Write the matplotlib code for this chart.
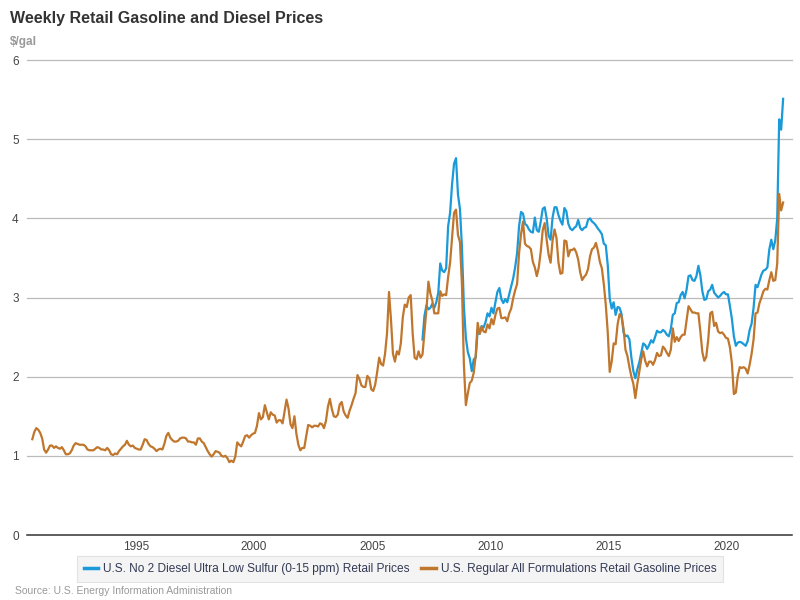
import numpy as np
import matplotlib
matplotlib.use("Agg")
import matplotlib.pyplot as plt
from matplotlib.lines import Line2D

# Monthly values (regular gasoline, $/gal), Aug 1990 - Apr 2022
gas_start_year, gas_start_month = 1990, 8
gas_values = [
    # 1990 Aug-Dec
    1.21, 1.30, 1.35, 1.33, 1.29,
    # 1991
    1.22, 1.08, 1.04, 1.08, 1.13, 1.13, 1.10, 1.12, 1.10, 1.09, 1.11, 1.07,
    # 1992
    1.02, 1.02, 1.03, 1.07, 1.13, 1.16, 1.15, 1.14, 1.14, 1.14, 1.12, 1.08,
    # 1993
    1.07, 1.07, 1.07, 1.09, 1.11, 1.10, 1.08, 1.08, 1.07, 1.10, 1.07, 1.02,
    # 1994
    1.01, 1.03, 1.02, 1.06, 1.09, 1.12, 1.14, 1.19, 1.14, 1.12, 1.13, 1.10,
    # 1995
    1.09, 1.08, 1.08, 1.14, 1.21, 1.20, 1.15, 1.12, 1.11, 1.09, 1.06, 1.08,
    # 1996
    1.09, 1.08, 1.15, 1.25, 1.29, 1.23, 1.20, 1.18, 1.18, 1.19, 1.22, 1.23,
    # 1997
    1.23, 1.22, 1.18, 1.18, 1.17, 1.17, 1.14, 1.22, 1.22, 1.18, 1.16, 1.11,
    # 1998
    1.06, 1.02, 0.99, 1.02, 1.06, 1.05, 1.04, 1.00, 0.99, 1.00, 0.97, 0.92,
    # 1999
    0.94, 0.92, 0.99, 1.17, 1.14, 1.12, 1.18, 1.25, 1.26, 1.23, 1.26, 1.28,
    # 2000
    1.29, 1.38, 1.54, 1.46, 1.49, 1.64, 1.55, 1.46, 1.55, 1.52, 1.51, 1.42,
    # 2001
    1.45, 1.45, 1.41, 1.56, 1.71, 1.60, 1.40, 1.35, 1.50, 1.28, 1.14, 1.07,
    # 2002
    1.10, 1.10, 1.25, 1.39, 1.38, 1.36, 1.38, 1.38, 1.37, 1.41, 1.40, 1.35,
    # 2003
    1.44, 1.62, 1.72, 1.59, 1.50, 1.49, 1.52, 1.65, 1.68, 1.56, 1.51, 1.48,
    # 2004
    1.57, 1.64, 1.72, 1.79, 2.02, 1.97, 1.89, 1.87, 1.87, 2.01, 1.98, 1.84,
    # 2005
    1.82, 1.90, 2.06, 2.24, 2.16, 2.14, 2.29, 2.55, 3.07, 2.72, 2.29, 2.19,
    # 2006
    2.32, 2.28, 2.42, 2.75, 2.91, 2.88, 3.00, 3.03, 2.55, 2.24, 2.22, 2.32,
    # 2007
    2.24, 2.28, 2.56, 2.85, 3.20, 3.05, 2.96, 2.80, 2.80, 2.80, 3.08, 3.02,
    # 2008
    3.04, 3.03, 3.26, 3.44, 3.76, 4.07, 4.11, 3.79, 3.70, 3.17, 2.15, 1.64,
    # 2009
    1.79, 1.92, 1.95, 2.05, 2.27, 2.68, 2.54, 2.63, 2.57, 2.56, 2.66, 2.61,
    # 2010
    2.73, 2.66, 2.78, 2.86, 2.87, 2.74, 2.74, 2.75, 2.70, 2.80, 2.86, 2.99,
    # 2011
    3.09, 3.17, 3.56, 3.80, 3.96, 3.68, 3.65, 3.64, 3.61, 3.45, 3.38, 3.27,
    # 2012
    3.38, 3.58, 3.85, 3.94, 3.73, 3.54, 3.44, 3.72, 3.86, 3.75, 3.44, 3.30,
    # 2013
    3.31, 3.72, 3.71, 3.52, 3.60, 3.60, 3.62, 3.57, 3.48, 3.32, 3.22, 3.26,
    # 2014
    3.29, 3.36, 3.52, 3.61, 3.63, 3.69, 3.59, 3.45, 3.37, 3.17, 2.91, 2.56,
    # 2015
    2.06, 2.19, 2.42, 2.41, 2.66, 2.79, 2.76, 2.61, 2.34, 2.26, 2.12, 2.00,
    # 2016
    1.91, 1.73, 1.91, 2.06, 2.22, 2.32, 2.20, 2.13, 2.19, 2.19, 2.15, 2.21,
    # 2017
    2.30, 2.26, 2.27, 2.38, 2.35, 2.30, 2.26, 2.34, 2.61, 2.44, 2.50, 2.45,
    # 2018
    2.50, 2.53, 2.53, 2.71, 2.89, 2.85, 2.81, 2.81, 2.80, 2.80, 2.57, 2.31,
    # 2019
    2.20, 2.25, 2.47, 2.80, 2.82, 2.64, 2.68, 2.57, 2.55, 2.56, 2.53, 2.49,
    # 2020
    2.48, 2.37, 2.17, 1.78, 1.80, 2.01, 2.12, 2.11, 2.12, 2.10, 2.04, 2.15,
    # 2021
    2.29, 2.47, 2.80, 2.81, 2.93, 3.00, 3.08, 3.11, 3.10, 3.22, 3.32, 3.21,
    # 2022 Jan-Apr
    3.22, 3.43, 4.31, 4.10, 4.20,
]

# Monthly values (ULSD diesel, $/gal), Feb 2007 - Apr 2022
dsl_start_year, dsl_start_month = 2007, 2
dsl_values = [
    # 2007 Feb-Dec
    2.47, 2.77, 2.90, 2.85, 2.87, 2.92, 2.87, 2.94, 3.06, 3.43, 3.34,
    # 2008
    3.32, 3.37, 3.90, 4.07, 4.43, 4.69, 4.76, 4.30, 4.12, 3.64, 2.89, 2.49,
    # 2009
    2.31, 2.23, 2.07, 2.22, 2.24, 2.59, 2.54, 2.64, 2.62, 2.69, 2.80, 2.76,
    # 2010
    2.87, 2.80, 2.94, 3.07, 3.12, 2.98, 2.93, 2.98, 2.94, 3.04, 3.14, 3.24,
    # 2011
    3.38, 3.56, 3.90, 4.08, 4.06, 3.93, 3.91, 3.86, 3.83, 3.82, 4.01, 3.85,
    # 2012
    3.83, 3.96, 4.12, 4.14, 4.00, 3.78, 3.73, 4.01, 4.14, 4.14, 4.04, 3.97,
    # 2013
    3.92, 4.13, 4.09, 3.93, 3.87, 3.85, 3.88, 3.90, 3.98, 3.88, 3.85, 3.88,
    # 2014
    3.89, 3.98, 4.00, 3.96, 3.94, 3.91, 3.87, 3.84, 3.80, 3.68, 3.66, 3.41,
    # 2015
    2.99, 2.86, 2.94, 2.78, 2.88, 2.87, 2.79, 2.56, 2.51, 2.52, 2.47, 2.24,
    # 2016
    2.07, 1.98, 2.09, 2.18, 2.30, 2.42, 2.40, 2.35, 2.40, 2.46, 2.43, 2.50,
    # 2017
    2.58, 2.56, 2.56, 2.59, 2.57, 2.53, 2.51, 2.60, 2.78, 2.80, 2.93, 2.94,
    # 2018
    3.03, 3.07, 2.99, 3.10, 3.27, 3.28, 3.22, 3.21, 3.27, 3.40, 3.28, 3.08,
    # 2019
    2.97, 2.98, 3.08, 3.10, 3.16, 3.06, 3.03, 3.00, 3.02, 3.05, 3.07, 3.04,
    # 2020
    3.04, 2.89, 2.73, 2.51, 2.39, 2.43, 2.44, 2.43, 2.41, 2.39, 2.45, 2.59,
    # 2021
    2.67, 2.87, 3.16, 3.13, 3.21, 3.29, 3.34, 3.35, 3.38, 3.61, 3.73, 3.61,
    # 2022 Jan-Apr
    3.72, 4.00, 5.25, 5.12, 5.51,
]

y_ticks = [0, 1, 2, 3, 4, 5, 6]
x_ticks = [1995, 2000, 2005, 2010, 2015, 2020]

title = "Weekly Retail Gasoline and Diesel Prices"
unit_label = "$/gal"
source = "Source: U.S. Energy Information Administration"
dsl_name = "U.S. No 2 Diesel Ultra Low Sulfur (0-15 ppm) Retail Prices"
gas_name = "U.S. Regular All Formulations Retail Gasoline Prices"


def month_axis(y0, m0, n):
    idx = np.arange(n)
    return y0 + (m0 - 1 + idx + 0.5) / 12.0


gas_x = month_axis(gas_start_year, gas_start_month, len(gas_values))
dsl_x = month_axis(dsl_start_year, dsl_start_month, len(dsl_values))

gas_color = "#c0762c"
dsl_color = "#1a9ad8"

plt.rcParams['font.family'] = ['Liberation Sans', 'DejaVu Sans']

fig = plt.figure(figsize=(8, 6), dpi=100)
ax = fig.add_axes([27 / 800, 1 - 535 / 600, (792 - 27) / 800, (535 - 60) / 600])

for v in y_ticks:
    ax.axhline(v, color="#333333" if v == 0 else "#bbbbbb", lw=1.1 if v == 0 else 0.9,
               zorder=0.5 if v == 0 else 0, clip_on=False)
ax.plot(dsl_x, dsl_values, color=dsl_color, lw=1.6, solid_joinstyle='round', zorder=2)
ax.plot(gas_x, gas_values, color=gas_color, lw=1.6, solid_joinstyle='round', zorder=3)

ax.set_xlim(1990.4, 2022.75)
ax.set_ylim(0, 6)
ax.set_yticks(y_ticks)
ax.set_xticks(x_ticks)
ax.set_yticklabels([str(v) for v in y_ticks])
ax.set_xticklabels([str(v) for v in x_ticks])
for s in ax.spines.values():
    s.set_visible(False)
ax.tick_params(axis='y', length=0, pad=6, labelsize=8.5, labelcolor="#444444")
ax.tick_params(axis='x', length=0, pad=4, labelsize=8.5, labelcolor="#444444")

fig.text(10 / 800, 1 - 18 / 600, title, fontsize=11.5, fontweight='bold', color="#333333", va='center', ha='left')
fig.text(10 / 800, 1 - 42 / 600, unit_label, fontsize=8.5, fontweight='bold', color="#999999", va='center', ha='left')
fig.text(15 / 800, 1 - 591 / 600, source, fontsize=7.5, color="#999999", va='center', ha='left')

handles = [Line2D([0], [0], color=dsl_color, lw=2.5), Line2D([0], [0], color=gas_color, lw=2.5)]
leg = fig.legend(handles, [dsl_name, gas_name], loc='center', bbox_to_anchor=(400 / 800, 1 - 569 / 600),
                 ncol=2, frameon=True, fontsize=8.6, handlelength=1.2, handletextpad=0.4,
                 columnspacing=1.0, borderpad=0.55, fancybox=False)
leg.get_frame().set_facecolor("#f2f2f2")
leg.get_frame().set_edgecolor("#dddddd")
leg.get_frame().set_linewidth(0.8)
for t in leg.get_texts():
    t.set_color("#333a55")

fig.savefig("out.png", dpi=100)
